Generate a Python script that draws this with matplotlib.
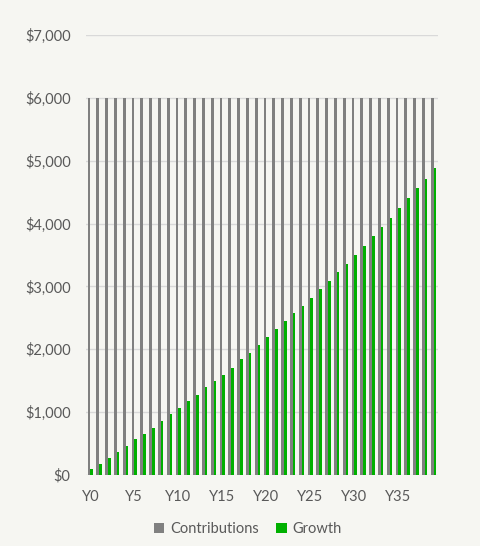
import matplotlib

matplotlib.use("Agg")
import matplotlib.pyplot as plt
import numpy as np

years = [f"Y{i}" for i in range(40)]
contributions = [6000] * 40
growth = [90, 170, 275, 360, 460, 565, 650, 755, 860, 965,
          1065, 1170, 1280, 1395, 1495, 1590, 1710, 1840, 1940, 2070,
          2190, 2320, 2445, 2570, 2690, 2820, 2965, 3090, 3235, 3360,
          3505, 3650, 3800, 3945, 4090, 4255, 4400, 4570, 4715, 4880]
yticks = [0, 1000, 2000, 3000, 4000, 5000, 6000, 7000]

BG = "#f6f6f2"
TXT = "#595959"
GRAY = "#808080"
GREEN = "#00b000"

plt.rcParams["font.family"] = ["Lato", "DejaVu Sans"]

fig = plt.figure(figsize=(4.8, 5.46), dpi=100, facecolor=BG)
ax = fig.add_axes([0.179, 0.130, 0.7333, 0.806], facecolor=BG)

x = np.arange(len(years))
w = 0.3
ax.bar(x - w / 2, contributions, width=w, color=GRAY, label="Contributions", zorder=2)
ax.bar(x + w / 2, growth, width=w, color=GREEN, label="Growth", zorder=2)

ax.set_xlim(-0.5, len(years) - 0.5)
ax.set_ylim(0, 7000)
ax.set_yticks(yticks)
ax.set_yticklabels([f"${v:,}" for v in yticks])
ax.set_xticks(x[::5])
ax.set_xticklabels(years[::5])
ax.grid(axis="y", color="#d9d9d9", lw=1, zorder=0)
for s in ax.spines.values():
    s.set_visible(False)
ax.tick_params(length=0, labelsize=10.5, labelcolor=TXT)
ax.tick_params(axis="y", pad=11)
ax.tick_params(axis="x", pad=11)

ax.legend(loc="upper center", bbox_to_anchor=(0.46, -0.077), ncol=2, frameon=False,
          fontsize=10.5, labelcolor=TXT, handlelength=0.7, handleheight=0.7,
          handletextpad=0.4, columnspacing=1.2)

fig.savefig("out.png", dpi=100, facecolor=BG)
